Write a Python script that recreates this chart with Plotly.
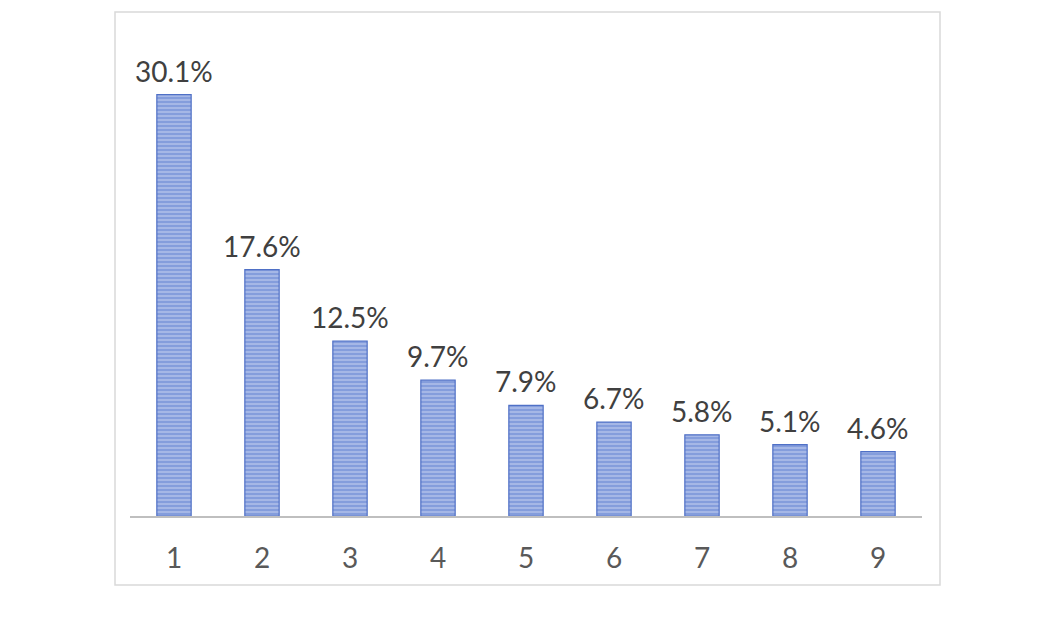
import plotly.graph_objects as go

digits = ["1", "2", "3", "4", "5", "6", "7", "8", "9"]
shares = [30.1, 17.6, 12.5, 9.7, 7.9, 6.7, 5.8, 5.1, 4.6]
labels = [f"{v}%" for v in shares]

W, H = 1051, 631
OFF = 8  # page body margin
L, R, T, B = 130 - OFF, 129 + OFF, 40 - OFF, 115 + OFF
pw, ph = W - L - R, H - T - B

fig = go.Figure(go.Bar(
    x=digits, y=shares,
    cliponaxis=False, width=0.39,
    marker=dict(color="#B3C2EA", line=dict(width=1.2, color="#4F70C6"),
                pattern=dict(shape="-", fgcolor="#5677CE", size=4, solidity=0.65)),
))

# category index positions on the category axis
for i, (v, t) in enumerate(zip(shares, labels)):
    fig.add_annotation(x=i, y=v, text=t, showarrow=False, yanchor="bottom",
                       yshift=5, font=dict(size=28, color="#404040", family="Lato"))

def px_x(p):
    return (p - OFF - L) / pw

def px_y(p):
    return (H - B - (p - OFF)) / ph

fig.add_shape(type="rect", xref="paper", yref="paper",
              x0=px_x(115), x1=px_x(940), y0=px_y(585), y1=px_y(12),
              line=dict(color="#D9D9D9", width=1.5), fillcolor="rgba(0,0,0,0)", layer="below")

fig.update_layout(
    width=W, height=H, margin=dict(l=L, r=R, t=T, b=B),
    paper_bgcolor="white", plot_bgcolor="white", showlegend=False,
    xaxis=dict(type="category", range=[-0.5, 8.5], showgrid=False,
               showline=True, linecolor="#BFBFBF", linewidth=2,
               ticks="outside", ticklen=16, tickcolor="rgba(0,0,0,0)",
               tickfont=dict(size=28, color="#595959", family="Lato")),
    yaxis=dict(range=[0, 34], visible=False, showgrid=False),
)

fig.write_html("out.html")
